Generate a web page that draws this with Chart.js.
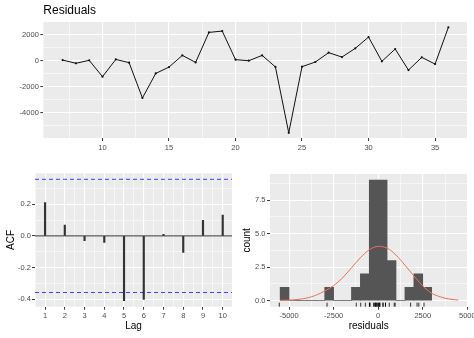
<!DOCTYPE html>
<html>
<head>
<meta charset="utf-8">
<script src="https://cdn.jsdelivr.net/npm/chart.js@4.4.1/dist/chart.umd.min.js"></script>
<style>
  html, body { margin: 0; padding: 0; background: #fff; overflow: hidden; }
  #wrap { position: relative; width: 474px; height: 338px; }
  canvas { position: absolute; }
</style>
</head>
<body>
<div id="wrap">
  <canvas id="resid" width="474" height="160" style="left:0;top:0"></canvas>
  <canvas id="acf" width="237" height="178" style="left:0;top:160px"></canvas>
  <canvas id="hist" width="237" height="178" style="left:237px;top:160px"></canvas>
</div>
<script>
// residuals over time
const residTime = [7, 8, 9, 10, 11, 12, 13, 14, 15, 16, 17, 18, 19, 20, 21,
  22, 23, 24, 25, 26, 27, 28, 29, 30, 31, 32, 33, 34, 35, 36];
const residValues = [50, -200, 30, -1230, 100, -150, -2870, -980, -490, 410, -130, 2180, 2280, 80, 0,
  410, -480, -5550, -460, -100, 620, 280, 950, 1820, -50, 900, -720, 260, -260, 2570];
const residXTicks = [10, 15, 20, 25, 30, 35];
const residYTicks = [-4000, -2000, 0, 2000];

// autocorrelation
const acfLags = [1, 2, 3, 4, 5, 6, 7, 8, 9, 10];
const acfValues = [0.211, 0.069, -0.031, -0.042, -0.41, -0.402, 0.01, -0.105, 0.098, 0.132];
const acfBound = 0.358;
const acfYTicks = [-0.4, -0.2, 0, 0.2];

// histogram of residuals
const binCenters = [-5250, -4750, -4250, -3750, -3250, -2750, -2250, -1750, -1250,
  -750, -250, 250, 750, 1250, 1750, 2250, 2750];
const binCounts = [1, 0, 0, 0, 0, 1, 0, 0, 1, 2, 9, 9, 3, 0, 1, 2, 1];
const curveX = [-5500, -5000, -4500, -4000, -3500, -3000, -2500, -2000, -1500, -1000, -500,
  0, 500, 1000, 1500, 2000, 2500, 3000, 3500, 4000, 4500];
const curveY = [0.02, 0.04, 0.09, 0.2, 0.4, 0.72, 1.12, 1.7, 2.45, 3.2, 3.8,
  4.05, 3.92, 3.4, 2.65, 1.85, 1.1, 0.55, 0.28, 0.12, 0.04];
const histXTicks = [-5000, -2500, 0, 2500, 5000];
const histYTicks = [0, 2.5, 5, 7.5];

Chart.defaults.font.family = "'Liberation Sans', Arial, sans-serif";

// ggplot style: major ticks plus minor grid lines half way between
function withMinor(majors, min, max) {
  const step = majors[1] - majors[0];
  const out = majors.map(v => ({ value: v }));
  for (let k = -1; k < majors.length; k++) {
    const v = majors[0] + step * (k + 0.5);
    if (v >= min && v <= max) out.push({ value: v, minor: true });
  }
  return out.sort((a, b) => a.value - b.value);
}

function axis(o) {
  return {
    type: 'linear',
    min: o.min,
    max: o.max,
    offset: false,
    afterBuildTicks: s => { s.ticks = withMinor(o.majors, o.min, o.max); },
    afterFit: s => {
      if (s.isHorizontal()) s.height = o.size; else s.width = o.size;
      s.paddingLeft = 0; s.paddingRight = 0; s.paddingTop = 0; s.paddingBottom = 0;
    },
    grid: {
      offset: false,
      color: '#FFFFFF',
      lineWidth: c => (c.tick && c.tick.minor ? 0.55 : 1.1),
      tickLength: 3,
      tickWidth: 1,
      tickColor: c => (c.tick && c.tick.minor ? 'rgba(0,0,0,0)' : '#333333'),
    },
    border: { display: false },
    ticks: {
      autoSkip: false,
      maxRotation: 0,
      padding: o.pad,
      color: '#4D4D4D',
      font: { size: 7.5 },
      callback: (v, i, t) => (t[i].minor ? '' : o.fmt(v)),
    },
    title: o.title
      ? { display: true, text: o.title, color: '#000000', font: { size: 10 }, padding: o.titlePad }
      : { display: false },
  };
}

const panelBg = {
  id: 'panelBg',
  beforeDraw(chart) {
    const { ctx, chartArea: a } = chart;
    ctx.save();
    ctx.fillStyle = '#EBEBEB';
    ctx.fillRect(a.left, a.top, a.right - a.left, a.bottom - a.top);
    ctx.restore();
  },
};

const acfRefs = {
  id: 'acfRefs',
  beforeDatasetsDraw(chart) {
    const { ctx, chartArea: a, scales } = chart;
    const y = scales.y.getPixelForValue(0);
    ctx.save();
    ctx.strokeStyle = '#333333';
    ctx.lineWidth = 1;
    ctx.beginPath();
    ctx.moveTo(a.left, y);
    ctx.lineTo(a.right, y);
    ctx.stroke();
    ctx.restore();
  },
  afterDatasetsDraw(chart) {
    const { ctx, chartArea: a, scales } = chart;
    ctx.save();
    ctx.strokeStyle = 'rgba(0,0,255,0.75)';
    ctx.lineWidth = 1;
    ctx.setLineDash([4, 3]);
    [acfBound, -acfBound].forEach(v => {
      const y = scales.y.getPixelForValue(v);
      ctx.beginPath();
      ctx.moveTo(a.left, y);
      ctx.lineTo(a.right, y);
      ctx.stroke();
    });
    ctx.restore();
  },
};

const rug = {
  id: 'rug',
  afterDatasetsDraw(chart) {
    const { ctx, chartArea: a, scales } = chart;
    ctx.save();
    ctx.strokeStyle = '#000000';
    ctx.lineWidth = 0.8;
    residValues.forEach(r => {
      const x = scales.x.getPixelForValue(r);
      ctx.beginPath();
      ctx.moveTo(x, a.bottom - 4);
      ctx.lineTo(x, a.bottom);
      ctx.stroke();
    });
    ctx.restore();
  },
};

const common = {
  responsive: false,
  animation: false,
  devicePixelRatio: 1,
};

new Chart(document.getElementById('resid'), {
  type: 'line',
  data: {
    datasets: [{
      data: residTime.map((t, i) => ({ x: t, y: residValues[i] })),
      borderColor: '#111111',
      borderWidth: 1,
      pointRadius: 1.1,
      pointBackgroundColor: '#111111',
      pointBorderWidth: 0,
      tension: 0,
    }],
  },
  options: {
    ...common,
    layout: { padding: { left: 0, right: 7, top: 0, bottom: 0 } },
    plugins: {
      legend: { display: false },
      tooltip: { enabled: false },
      title: {
        display: true, text: 'Residuals', align: 'start', fullSize: false,
        color: '#000000', font: { size: 12, weight: 'normal' },
        padding: { top: 3, bottom: 4.6 },
      },
    },
    scales: {
      x: axis({ min: 5.55, max: 37.4, majors: residXTicks, fmt: v => String(v), size: 22, pad: 2.5 }),
      y: axis({ min: -5950, max: 2980, majors: residYTicks, fmt: v => String(v), size: 43.3, pad: 1.5 }),
    },
  },
  plugins: [panelBg],
});

new Chart(document.getElementById('acf'), {
  type: 'bar',
  data: {
    datasets: [{
      data: acfLags.map((l, i) => ({ x: l, y: acfValues[i] })),
      backgroundColor: '#333333',
      barThickness: 1.5,
      borderWidth: 0,
    }],
  },
  options: {
    ...common,
    layout: { padding: { left: 0, right: 5, top: 13.3, bottom: 0 } },
    plugins: { legend: { display: false }, tooltip: { enabled: false } },
    scales: {
      x: axis({ min: 0.49, max: 10.47, majors: acfLags, fmt: v => String(v), size: 31.3, pad: 1.5,
        title: 'Lag', titlePad: { top: 0, bottom: 6 } }),
      y: axis({ min: -0.448, max: 0.396, majors: acfYTicks, fmt: v => v.toFixed(1), size: 35, pad: 1,
        title: 'ACF', titlePad: { top: 5, bottom: 0 } }),
    },
  },
  plugins: [panelBg, acfRefs],
});

new Chart(document.getElementById('hist'), {
  type: 'bar',
  data: {
    datasets: [
      {
        type: 'line',
        order: 0,
        data: curveX.map((x, i) => ({ x: x, y: curveY[i] })),
        borderColor: '#E8735A',
        borderWidth: 1,
        pointRadius: 0,
        cubicInterpolationMode: 'monotone',
      },
      {
        type: 'bar',
        order: 1,
        data: binCenters.map((c, i) => ({ x: c, y: binCounts[i] })),
        backgroundColor: '#555555',
        borderWidth: 0,
        barPercentage: 1,
        categoryPercentage: 1,
      },
    ],
  },
  options: {
    ...common,
    layout: { padding: { left: 0, right: 6.7, top: 14, bottom: 0 } },
    plugins: { legend: { display: false }, tooltip: { enabled: false } },
    scales: {
      x: axis({ min: -6070, max: 5000, majors: histXTicks, fmt: v => String(v), size: 31.3, pad: 1.5,
        title: 'residuals', titlePad: { top: 0, bottom: 6 } }),
      y: axis({ min: -0.45, max: 9.45, majors: histYTicks, fmt: v => v.toFixed(1), size: 33, pad: 1.5,
        title: 'count', titlePad: { top: 4.3, bottom: 0 } }),
    },
  },
  plugins: [panelBg, rug],
});
</script>
</body>
</html>
